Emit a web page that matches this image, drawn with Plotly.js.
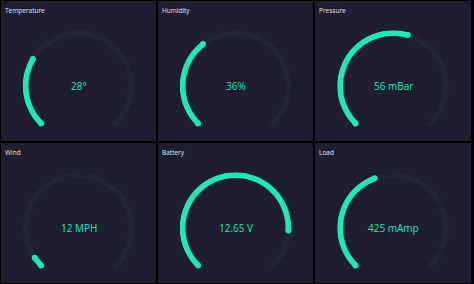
<!DOCTYPE html>
<html>
<head>
<meta charset="utf-8">
<script src="https://cdn.plot.ly/plotly-3.0.1.min.js"></script>
<style>
html,body{margin:0;padding:0;background:#000;}
#chart{width:474px;height:284px;}
</style>
</head>
<body>
<div id="chart"></div>
<script>
// ---- data ----
var labels = ["Temperature", "Humidity", "Pressure", "Wind", "Battery", "Load"];
var values = [28, 36, 56, 12, 12.65, 425];
var maxValues = [100, 100, 100, 300, 15, 1000];
var units = ["°", "%", " mBar", " MPH", " V", " mAmp"];

// ---- layout geometry (pixels) ----
var W = 474, H = 284;
var cols = [[1, 156], [158, 313], [315, 471]];
var rows = [[1, 141], [143, 283]];
var R = 53;            // gauge radius (px)
var RR = 0.95;         // arc radius as fraction of polar radius
var centerDy = 85;     // gauge centre below panel top
var SWEEP = 270;       // gauge sweep in degrees
var ACCENT = "#1de9b6";
var TRACK = "#242437";
var PANEL = "#1e1e30";

var traces = [];
var layout = {
  width: W, height: H,
  margin: {l: 0, r: 0, t: 0, b: 0},
  paper_bgcolor: "#000",
  plot_bgcolor: "#000",
  showlegend: false,
  shapes: [],
  annotations: []
};

function arcThetas(frac) {
  var end = frac * SWEEP, t = [];
  for (var a = 0; a < end; a += 1) t.push(a);
  t.push(end);
  return t;
}
function ones(arr) { return arr.map(function () { return RR; }); }

labels.forEach(function (lab, i) {
  var c = cols[i % 3], r = rows[Math.floor(i / 3)];
  var cx = (c[0] + c[1]) / 2, cy = r[0] + centerDy;
  var pid = i === 0 ? "polar" : "polar" + (i + 1);
  var PR = R / RR;

  layout.shapes.push({
    type: "rect", xref: "paper", yref: "paper", layer: "below",
    x0: c[0] / W, x1: c[1] / W, y0: 1 - r[1] / H, y1: 1 - r[0] / H,
    fillcolor: PANEL, line: {width: 0}
  });

  layout[pid] = {
    domain: {x: [(cx - PR) / W, (cx + PR) / W],
             y: [Math.max(0, 1 - (cy + PR) / H), Math.min(1, 1 - (cy - PR) / H)]},
    bgcolor: "rgba(0,0,0,0)",
    radialaxis: {visible: false, range: [0, 1]},
    angularaxis: {visible: false, direction: "clockwise", rotation: 225}
  };

  var frac = Math.max(0, Math.min(1, values[i] / maxValues[i]));
  var tr = arcThetas(1);
  var tv = arcThetas(frac);

  traces.push({
    type: "scatterpolar", subplot: pid, mode: "lines", cliponaxis: false,
    r: ones(tr), theta: tr, line: {color: TRACK, width: 6}, hoverinfo: "skip"
  });
  traces.push({
    type: "scatterpolar", subplot: pid, mode: "markers", cliponaxis: false,
    r: [RR, RR], theta: [0, SWEEP], marker: {color: TRACK, size: 6}, hoverinfo: "skip"
  });
  traces.push({
    type: "scatterpolar", subplot: pid, mode: "lines", cliponaxis: false,
    r: ones(tv), theta: tv, line: {color: ACCENT, width: 6}, hoverinfo: "skip"
  });
  traces.push({
    type: "scatterpolar", subplot: pid, mode: "markers", cliponaxis: false,
    r: [RR, RR], theta: [0, frac * SWEEP], marker: {color: ACCENT, size: 6}, hoverinfo: "skip"
  });

  layout.annotations.push({
    xref: "paper", yref: "paper", x: (c[0] + 2) / W, y: 1 - (r[0] + 3) / H,
    xanchor: "left", yanchor: "top", showarrow: false,
    text: lab, font: {family: "Open Sans", size: 6.5, color: "#e6e6ee"}
  });
  layout.annotations.push({
    xref: "paper", yref: "paper", x: cx / W, y: 1 - cy / H,
    xanchor: "center", yanchor: "middle", showarrow: false,
    text: values[i] + units[i], font: {family: "Open Sans", size: 10, color: ACCENT}
  });
});

Plotly.newPlot("chart", traces, layout, {displayModeBar: false, staticPlot: true});
</script>
</body>
</html>
